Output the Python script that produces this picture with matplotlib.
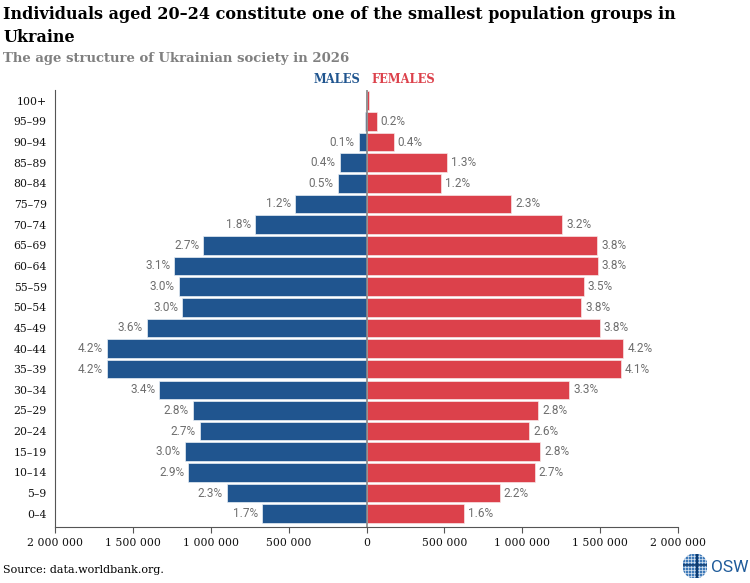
import numpy as np
import matplotlib.pyplot as plt
from matplotlib.patches import Circle

# age groups, top to bottom
ages = ['100+', '95–99', '90–94', '85–89', '80–84', '75–79', '70–74', '65–69', '60–64',
        '55–59', '50–54', '45–49', '40–44', '35–39', '30–34', '25–29', '20–24',
        '15–19', '10–14', '5–9', '0–4']
males = [4000, 11000, 50000, 173000, 186000, 457000, 718000, 1049000, 1235000,
         1205000, 1184000, 1410000, 1667000, 1665000, 1331000, 1117000, 1072000,
         1168000, 1145000, 897000, 673000]
females = [17000, 66000, 175000, 516000, 480000, 930000, 1258000, 1483000, 1487000,
           1397000, 1380000, 1496000, 1649000, 1633000, 1301000, 1103000, 1045000,
           1115000, 1081000, 857000, 628000]
male_pct = ['', '', '0.1%', '0.4%', '0.5%', '1.2%', '1.8%', '2.7%', '3.1%', '3.0%', '3.0%',
            '3.6%', '4.2%', '4.2%', '3.4%', '2.8%', '2.7%', '3.0%', '2.9%', '2.3%', '1.7%']
female_pct = ['', '0.2%', '0.4%', '1.3%', '1.2%', '2.3%', '3.2%', '3.8%', '3.8%', '3.5%', '3.8%',
              '3.8%', '4.2%', '4.1%', '3.3%', '2.8%', '2.6%', '2.8%', '2.7%', '2.2%', '1.6%']
xticks = [-2000000, -1500000, -1000000, -500000, 0, 500000, 1000000, 1500000, 2000000]

blue = '#20558f'
red = '#dc414b'
grey = '#6e6e6e'
plt.rcParams['font.family'] = ['Roboto', 'DejaVu Sans']

fig = plt.figure(figsize=(7.5, 5.83), dpi=100)
ax = fig.add_axes([55 / 750, 56.3 / 583, 623 / 750, 436.7 / 583])

y = np.arange(len(ages))[::-1]
ax.barh(y, [-m for m in males], height=0.9, color=blue, edgecolor='#e8eef5', linewidth=0.5)
ax.barh(y, females, height=0.9, color=red, edgecolor='#f8e6e7', linewidth=0.5)

for yi, m, f, mp, fp in zip(y, males, females, male_pct, female_pct):
    if mp:
        ax.text(-m - 25000, yi, mp, ha='right', va='center', fontsize=8.5, color=grey)
    if fp:
        ax.text(f + 25000, yi, fp, ha='left', va='center', fontsize=8.5, color=grey)

ax.set_xlim(-2000000, 2000000)
ax.set_ylim(-0.63, len(ages) - 0.48)
ax.set_yticks(y)
ax.set_yticklabels(ages, fontsize=7.8, family='DejaVu Serif', color='#111111')
ax.set_xticks(xticks)
ax.set_xticklabels([f'{abs(v):,}'.replace(',', ' ') for v in xticks], fontsize=7.8,
                   family='DejaVu Serif', color='#111111')
ax.tick_params(axis='y', length=0, pad=6)
ax.tick_params(axis='x', length=4, color='#555555', width=0.8, pad=4)
for s in ['top', 'right']:
    ax.spines[s].set_visible(False)
ax.spines['left'].set_color('#555555')
ax.spines['bottom'].set_color('#555555')
ax.axvline(0, color='#888888', linewidth=1.2)

ax.text(-40000, 1.01, 'MALES', transform=ax.get_xaxis_transform(), ha='right', va='bottom',
        fontsize=8.3, fontweight='bold', color=blue, family='DejaVu Serif')
ax.text(30000, 1.01, 'FEMALES', transform=ax.get_xaxis_transform(), ha='left', va='bottom',
        fontsize=8.3, fontweight='bold', color=red, family='DejaVu Serif')

fig.text(3 / 750, 1 - 6 / 583,
         'Individuals aged 20–24 constitute one of the smallest population groups in\nUkraine',
         ha='left', va='top', fontsize=11.5, fontweight='bold', family='DejaVu Serif',
         linespacing=1.45)
fig.text(3 / 750, 1 - 52 / 583, 'The age structure of Ukrainian society in 2026',
         ha='left', va='top', fontsize=9.5, fontweight='bold', color='#808080',
         family='DejaVu Serif')
fig.text(3 / 750, 1 - 570 / 583, 'Source: data.worldbank.org.', ha='left', va='center',
         fontsize=8, family='DejaVu Serif')

# OSW logo
lax = fig.add_axes([683 / 750, 5 / 583, 24 / 750, 24 / 583])
lax.set_xlim(-1, 1)
lax.set_ylim(-1, 1)
lax.set_aspect('equal')
lax.axis('off')
lax.add_patch(Circle((0, 0), 1, color='#3f7ab8'))
for t in np.linspace(-0.85, 0.85, 8):
    lax.plot([t, t], [-1, 1], color='white', lw=0.4)
    lax.plot([-1, 1], [t, t], color='white', lw=0.4)
lax.plot([0.15, 0.15], [-1, 1], color='#0e3a6e', lw=1.6)
lax.plot([-1, 1], [0.1, 0.1], color='#0e3a6e', lw=1.2)
fig.text(711 / 750, 1 - 567 / 583, 'OSW', ha='left', va='center', fontsize=12.5,
         color='#1f5b9a', family='Roboto')

fig.savefig('out.png', dpi=100)
